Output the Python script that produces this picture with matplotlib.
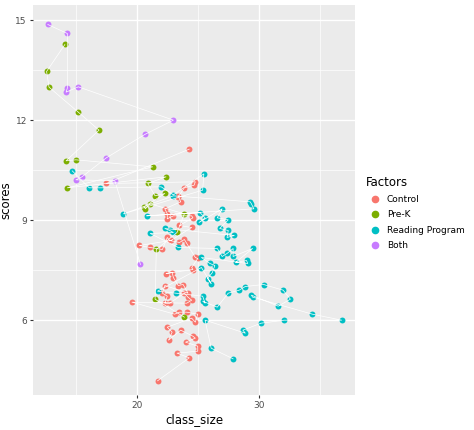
import matplotlib
matplotlib.use('Agg')
import matplotlib.pyplot as plt
from matplotlib.lines import Line2D

# data: (class_size, scores) per factor
control = [(24.3, 11.13), (17.5, 10.1), (24.8, 10.15), (24.7, 10.05), (23.9, 9.97), (23.4, 9.7),
           (23.4, 9.73), (23.6, 9.55), (22.3, 9.34), (22.5, 9.19), (22.5, 9.04), (23.0, 9.13),
           (24.5, 9.13), (24.6, 9.07), (23.5, 8.84), (24.5, 8.78), (22.8, 8.39), (20.2, 8.24),
           (21.1, 8.18), (22.1, 8.12), (22.5, 8.48), (22.7, 8.39), (23.5, 8.33), (23.9, 8.42),
           (24.1, 8.30), (24.8, 7.88), (25.0, 7.85), (24.5, 7.58), (24.6, 7.52), (22.4, 7.40),
           (22.9, 7.43), (23.0, 7.28), (23.4, 7.04), (23.8, 7.07), (24.2, 6.81), (22.3, 7.04),
           (22.1, 6.81), (22.5, 6.72), (22.3, 6.51), (22.7, 6.51), (23.9, 6.81), (24.2, 6.69),
           (24.5, 6.60), (24.1, 6.51), (19.6, 6.54), (23.1, 6.18), (23.5, 6.24), (24.1, 6.24),
           (25.0, 6.18), (24.8, 5.94), (24.5, 6.06), (22.5, 5.79), (22.9, 5.64), (22.6, 5.40),
           (23.6, 5.70), (24.6, 5.52), (24.8, 5.46), (24.0, 5.34), (25.0, 5.22), (25.0, 5.07),
           (23.3, 5.01), (24.3, 4.87), (21.7, 4.18)]
prek = [(14.1, 14.27), (12.6, 13.46), (12.8, 12.99), (15.2, 12.24), (16.9, 11.7), (14.2, 10.78),
        (15.0, 10.81), (21.3, 10.6), (14.3, 9.97), (22.4, 10.3), (20.9, 10.1), (21.5, 9.73),
        (22.3, 9.8), (20.6, 9.40), (20.7, 9.34), (21.1, 9.49), (23.9, 9.19), (23.3, 8.63),
        (21.6, 8.12), (21.5, 6.63), (23.9, 6.09)]
reading = [(14.7, 10.48), (16.1, 9.97), (17.0, 9.97), (22.0, 10.0), (23.0, 9.76), (25.5, 10.39),
           (25.4, 9.9), (18.9, 9.19), (23.0, 9.73), (29.3, 9.55), (29.4, 9.49), (29.6, 9.34),
           (20.8, 9.13), (25.2, 9.22), (25.6, 9.07), (25.1, 8.93), (27.0, 9.34), (26.6, 9.07),
           (27.5, 9.01), (26.8, 8.75), (27.5, 8.69), (27.4, 8.48), (28.0, 8.54), (22.3, 8.75),
           (22.7, 8.69), (23.0, 8.63), (21.1, 8.60), (23.4, 8.18), (26.6, 8.15), (27.0, 7.91),
           (27.4, 8.00), (27.9, 8.15), (27.9, 7.91), (29.5, 8.15), (28.1, 7.73), (29.0, 7.79),
           (29.1, 7.70), (25.3, 7.88), (26.0, 7.70), (26.4, 7.64), (26.2, 7.43), (25.8, 7.25),
           (26.1, 7.10), (25.3, 7.58), (21.7, 6.87), (23.2, 6.81), (25.4, 6.72), (25.6, 6.51),
           (25.4, 6.57), (26.6, 6.39), (27.5, 6.81), (28.4, 6.90), (28.9, 7.01), (30.4, 7.07),
           (32.0, 6.90), (32.6, 6.63), (31.6, 6.42), (29.4, 6.75), (29.5, 6.69), (34.4, 6.18),
           (36.8, 6.0), (32.1, 6.0), (30.2, 5.91), (28.7, 5.70), (28.9, 5.61), (25.6, 6.0),
           (26.1, 5.16), (27.9, 4.84)]
both = [(12.7, 14.87), (14.3, 14.6), (14.3, 12.96), (14.2, 12.84), (15.2, 13.0), (23.0, 12.0),
        (20.7, 11.58), (17.5, 10.87), (15.5, 10.3), (15.0, 10.21), (18.2, 10.18), (20.3, 7.67)]

groups = ['Control', 'Pre-K', 'Reading Program', 'Both']
series = [control, prek, reading, both]
colors = ['#F8766D', '#7CAE00', '#00BFC4', '#C77CFF']

fig = plt.figure(figsize=(4.74, 4.3), dpi=100)
ax = fig.add_axes([0.070, 0.081, 0.679, 0.907])
ax.set_facecolor('#EBEBEB')

for pts, col in zip(series, colors):
    xs = [p[0] for p in pts]
    ys = [p[1] for p in pts]
    ax.scatter(xs, ys, s=18, color=col, linewidths=0, zorder=3)
    ax.plot(xs, ys, color='white', lw=0.5, zorder=4)

ax.set_xlim(11.5, 37.9)
ax.set_ylim(3.75, 15.45)
ax.set_xticks([20, 30])
ax.set_xticks([15, 25, 35], minor=True)
ax.set_yticks([6, 9, 12, 15])
ax.set_yticks([7.5, 10.5, 13.5], minor=True)
ax.grid(which='major', color='white', lw=1.0)
ax.grid(which='minor', color='white', lw=0.5)
ax.set_axisbelow(True)
for s in ax.spines.values():
    s.set_visible(False)
ax.tick_params(which='major', length=2.5, pad=2, color='#333333', labelsize=6.5,
               labelcolor='#4D4D4D')
ax.tick_params(which='minor', length=0)
ax.set_xlabel('class_size', fontsize=8.5, labelpad=2)
ax.set_ylabel('scores', fontsize=8.5, labelpad=2)

handles = [Line2D([], [], marker='o', ls='', color=c, markersize=4.5) for c in colors]
leg = fig.legend(handles, groups, loc='center left', bbox_to_anchor=(0.755, 0.505),
                 title='Factors', frameon=False, fontsize=6.5, title_fontsize=8.5,
                 handletextpad=0.3, labelspacing=0.7)
leg._legend_box.align = 'left'

fig.savefig('out.png', dpi=100)
